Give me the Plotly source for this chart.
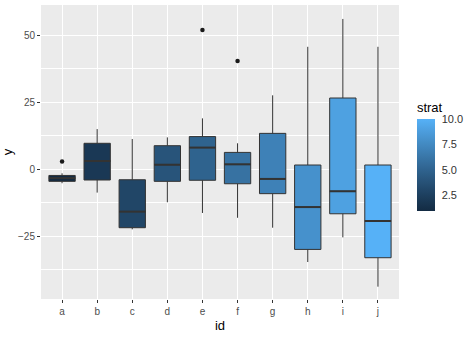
import plotly.graph_objects as go

# ---- data ----
ids = ["a", "b", "c", "d", "e", "f", "g", "h", "i", "j"]
strat = [1, 2, 3, 4, 5, 6, 7, 8, 9, 10]
lower_whisker = [-5.3, -8.8, -22.5, -12.4, -16.4, -18.2, -21.9, -34.7, -25.5, -43.9]
q1 = [-4.6, -4.1, -21.9, -4.6, -4.2, -5.5, -9.2, -30.0, -16.7, -33.1]
median = [-3.4, 3.0, -15.9, 1.6, 8.0, 1.75, -3.7, -14.2, -8.3, -19.4]
q3 = [-2.4, 9.6, -4.0, 8.7, 12.1, 6.2, 13.3, 1.5, 26.5, 1.5]
upper_whisker = [-1.6, 14.9, 11.2, 11.8, 18.9, 9.6, 27.5, 45.6, 56.0, 45.6]
outlier_id = ["a", "e", "f"]
outlier_y = [2.8, 51.9, 40.3]
y_ticks = [-25, 0, 25, 50]
legend_ticks = [2.5, 5.0, 7.5, 10.0]

LOW, HIGH = "#132B43", "#56B1F7"
SMIN, SMAX = 1, 10
BOX_W = 0.75


# ---- Lab-space gradient like ggplot2 ----
def hex2rgb(h):
    h = h.lstrip("#")
    return [int(h[i:i + 2], 16) / 255 for i in (0, 2, 4)]


def rgb2lab(rgb):
    lin = [c / 12.92 if c <= 0.04045 else ((c + 0.055) / 1.055) ** 2.4 for c in rgb]
    r, g, b = lin
    X = 0.4124 * r + 0.3576 * g + 0.1805 * b
    Y = 0.2126 * r + 0.7152 * g + 0.0722 * b
    Z = 0.0193 * r + 0.1192 * g + 0.9505 * b
    Xn, Yn, Zn = 0.95047, 1.0, 1.08883

    def f(t):
        return t ** (1 / 3) if t > 216 / 24389 else (24389 / 27 * t + 16) / 116

    fx, fy, fz = f(X / Xn), f(Y / Yn), f(Z / Zn)
    return [116 * fy - 16, 500 * (fx - fy), 200 * (fy - fz)]


def lab2hex(lab):
    L, a, b = lab
    fy = (L + 16) / 116
    fx = fy + a / 500
    fz = fy - b / 200

    def finv(t):
        return t ** 3 if t ** 3 > 216 / 24389 else (116 * t - 16) / (24389 / 27)

    X, Y, Z = 0.95047 * finv(fx), finv(fy), 1.08883 * finv(fz)
    r = 3.2406 * X - 1.5372 * Y - 0.4986 * Z
    g = -0.9689 * X + 1.8758 * Y + 0.0415 * Z
    bb = 0.0557 * X - 0.2040 * Y + 1.0570 * Z
    out = []
    for c in (r, g, bb):
        c = 12.92 * c if c <= 0.0031308 else 1.055 * c ** (1 / 2.4) - 0.055
        out.append(max(0, min(255, round(c * 255))))
    return "#%02X%02X%02X" % tuple(out)


lab_lo, lab_hi = rgb2lab(hex2rgb(LOW)), rgb2lab(hex2rgb(HIGH))


def grad(t):
    return lab2hex([lo + (hi - lo) * t for lo, hi in zip(lab_lo, lab_hi)])


colorscale = [[k / 20, grad(k / 20)] for k in range(21)]

fig = go.Figure()
xpos = list(range(len(ids)))

for i, name in enumerate(ids):
    col = grad((strat[i] - SMIN) / (SMAX - SMIN))
    fig.add_trace(go.Box(
        x=[xpos[i]], q1=[q1[i]], median=[median[i]], q3=[q3[i]],
        lowerfence=[lower_whisker[i]], upperfence=[upper_whisker[i]],
        width=BOX_W, whiskerwidth=0, fillcolor=col,
        line=dict(color="#333333", width=1), boxpoints=False,
        showlegend=False, hoverinfo="skip",
    ))
    fig.add_trace(go.Scatter(
        x=[xpos[i] - BOX_W / 2, xpos[i] + BOX_W / 2], y=[median[i], median[i]],
        mode="lines", line=dict(color="#333333", width=2),
        showlegend=False, hoverinfo="skip",
    ))

fig.add_trace(go.Scatter(
    x=[ids.index(o) for o in outlier_id], y=outlier_y, mode="markers",
    marker=dict(color="#1a1a1a", size=4.5), showlegend=False, hoverinfo="skip",
))

# colorbar
fig.add_trace(go.Scatter(
    x=[None, None], y=[None, None], mode="markers",
    marker=dict(color=[SMIN, SMAX], cmin=SMIN, cmax=SMAX, colorscale=colorscale,
                showscale=True,
                colorbar=dict(
                    title=dict(text="strat", side="top",
                               font=dict(size=13, color="#000000")),
                    tickvals=legend_ticks,
                    ticktext=["%.1f" % v for v in legend_ticks],
                    ticks="outside", ticklen=5, tickcolor="white", tickwidth=1,
                    tickfont=dict(size=11, color="#333333"),
                    outlinewidth=0, thickness=18,
                    len=112, lenmode="pixels",
                    x=1.05, xanchor="left", y=0.30, yanchor="bottom",
                    xpad=0, ypad=0,
                )),
    showlegend=False, hoverinfo="skip",
))

fig.update_layout(
    width=474, height=338,
    margin=dict(l=41, r=75, t=5, b=39),
    paper_bgcolor="white", plot_bgcolor="#EBEBEB",
    font=dict(family="Arial, Liberation Sans, sans-serif", color="#4D4D4D", size=10),
    xaxis=dict(
        range=[-0.6, len(ids) - 1 + 0.6], tickvals=xpos, ticktext=ids,
        showgrid=True, gridcolor="white", gridwidth=1.1, zeroline=False,
        ticks="outside", ticklen=3, tickcolor="#333333", tickwidth=1,
        tickfont=dict(size=10, color="#4D4D4D"),
        title=dict(text="id", font=dict(size=13, color="#000000"), standoff=4),
    ),
    yaxis=dict(
        range=[-48.5, 61.2], tickvals=y_ticks,
        showgrid=True, gridcolor="white", gridwidth=1.1, zeroline=False,
        ticks="outside", ticklen=3, tickcolor="#333333", tickwidth=1,
        tickfont=dict(size=10, color="#4D4D4D"),
        minor=dict(tickvals=[-37.5, -12.5, 12.5, 37.5], showgrid=True,
                   gridcolor="white", gridwidth=0.5, ticks=""),
        title=dict(text="y", font=dict(size=13, color="#000000"), standoff=2),
    ),
)

fig.write_html("out.html")
